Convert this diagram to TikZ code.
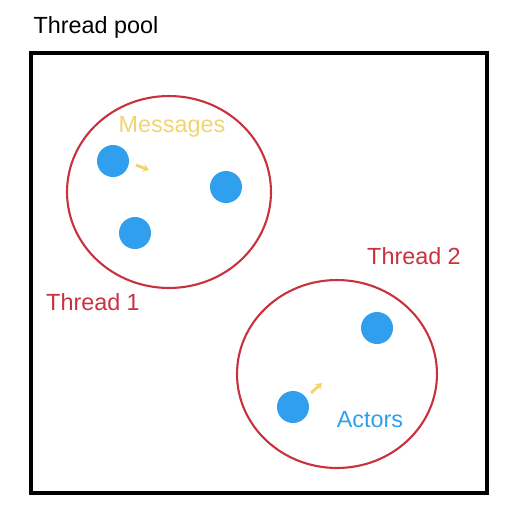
\documentclass[tikz,border=0pt]{standalone}
\usepackage{fontspec}
\setmainfont{Liberation Sans}
\usetikzlibrary{shapes.geometric,arrows.meta}
\definecolor{threadred}{HTML}{C8323F}
\definecolor{actorblue}{HTML}{2F9FEE}
\definecolor{msgyellow}{HTML}{F2D46E}

\begin{document}
\begin{tikzpicture}
[
x=0.02cm,y=-0.02cm,
thread/.style={draw=threadred,line width=1.2pt,ellipse,inner sep=0pt},
actor/.style={circle,fill=actorblue,inner sep=0pt,minimum size=0.64cm},
msg/.style={draw=msgyellow,line width=1.6pt,-{Stealth[length=3.5pt,width=4.5pt]}},
caption/.style={font=\fontsize{13.3}{15}\selectfont,inner sep=0pt},
]
\useasboundingbox (0,0) rectangle (512,512);

%The pool
\node[caption] (title) at (96,27) {Thread pool};
\draw[line width=2.3pt] (31,53) rectangle (487,493);

%Place the threads
\node[thread,minimum width=4.08cm,minimum height=3.84cm] (t1) at (169,192) {};
\node[thread,minimum width=4.0cm,minimum height=3.76cm] (t2) at (337,374) {};
\node[caption,text=threadred] (l1) at (93,302) {Thread 1};
\node[caption,text=threadred] (l2) at (414,256) {Thread 2};

%Place the actors
\node[actor] (a1) at (113,161) {};
\node[actor] (a2) at (226,187) {};
\node[actor] (a3) at (135,233) {};
\node[actor] (a4) at (377,328) {};
\node[actor] (a5) at (293,407) {};
\node[caption,text=actorblue] (la) at (370,420) {Actors};

%Messages
\node[caption,text=msgyellow] (lm) at (172,127) {Messages};
\coordinate (m1s) at (136,165);
\coordinate (m1e) at (149,170);
\coordinate (m2s) at (311,393);
\coordinate (m2e) at (322,383);
\draw[msg] (m1s) -- (m1e);
\draw[msg] (m2s) -- (m2e);
\end{tikzpicture}
\end{document}
